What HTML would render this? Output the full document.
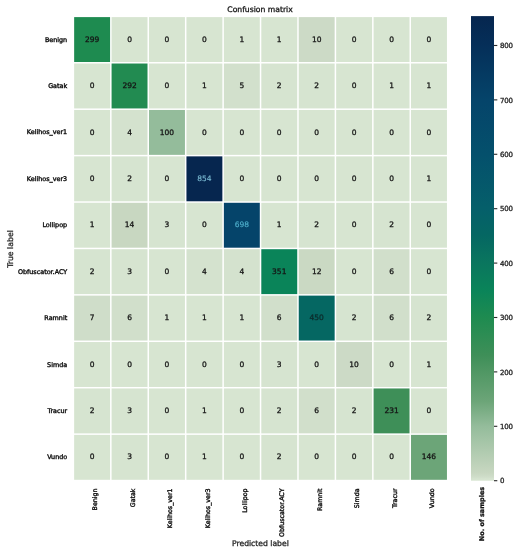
<!DOCTYPE html><html><head><meta charset="utf-8"><title>Confusion matrix</title><style>html,body{margin:0;padding:0;background:#fff}svg{display:block}text{font-family:"DejaVu Sans","Liberation Sans",sans-serif;fill:#151515;stroke:#151515;stroke-width:.3px}.a{font-size:7.5px;text-anchor:middle}.t{font-size:6.42px;stroke-width:.4px}.x{font-size:6.3px;stroke-width:.4px}.c{font-size:7px;letter-spacing:-.22px;fill:#2c2c2c;stroke:#2c2c2c;stroke-width:.35px}</style></head><body>
<svg width="518" height="550" viewBox="0 0 518 550">
<rect width="518" height="550" fill="#fff"/>
<defs><linearGradient id="g" x1="0" y1="1" x2="0" y2="0">
<stop offset="0.0000" stop-color="#d7e5d1"/>
<stop offset="0.0035" stop-color="#d6e4d0"/>
<stop offset="0.0082" stop-color="#cfddc9"/>
<stop offset="0.0164" stop-color="#c8d7c1"/>
<stop offset="0.1171" stop-color="#94bc9b"/>
<stop offset="0.1710" stop-color="#6ca578"/>
<stop offset="0.2342" stop-color="#509764"/>
<stop offset="0.2705" stop-color="#3e8f58"/>
<stop offset="0.3513" stop-color="#1e8b50"/>
<stop offset="0.4098" stop-color="#0a8459"/>
<stop offset="0.4684" stop-color="#0a765e"/>
<stop offset="0.5269" stop-color="#056762"/>
<stop offset="0.5855" stop-color="#055f6a"/>
<stop offset="0.7026" stop-color="#04506c"/>
<stop offset="0.8197" stop-color="#05446a"/>
<stop offset="0.9368" stop-color="#052f59"/>
<stop offset="1.0000" stop-color="#06264f"/>
</linearGradient></defs>
<rect x="74.15" y="17.10" width="35.93" height="44.92" fill="#1e8b50"/>
<rect x="111.58" y="17.10" width="35.93" height="44.92" fill="#d7e5d1"/>
<rect x="149.01" y="17.10" width="35.93" height="44.92" fill="#d7e5d1"/>
<rect x="186.44" y="17.10" width="35.93" height="44.92" fill="#d7e5d1"/>
<rect x="223.87" y="17.10" width="35.93" height="44.92" fill="#d7e5d1"/>
<rect x="261.30" y="17.10" width="35.93" height="44.92" fill="#d7e5d1"/>
<rect x="298.73" y="17.10" width="35.93" height="44.92" fill="#ccdac6"/>
<rect x="336.16" y="17.10" width="35.93" height="44.92" fill="#d7e5d1"/>
<rect x="373.59" y="17.10" width="35.93" height="44.92" fill="#d7e5d1"/>
<rect x="411.02" y="17.10" width="35.93" height="44.92" fill="#d7e5d1"/>
<rect x="74.15" y="63.52" width="35.93" height="44.92" fill="#d7e5d1"/>
<rect x="111.58" y="63.52" width="35.93" height="44.92" fill="#228b51"/>
<rect x="149.01" y="63.52" width="35.93" height="44.92" fill="#d7e5d1"/>
<rect x="186.44" y="63.52" width="35.93" height="44.92" fill="#d7e5d1"/>
<rect x="223.87" y="63.52" width="35.93" height="44.92" fill="#d2e0cc"/>
<rect x="261.30" y="63.52" width="35.93" height="44.92" fill="#d6e4d0"/>
<rect x="298.73" y="63.52" width="35.93" height="44.92" fill="#d6e4d0"/>
<rect x="336.16" y="63.52" width="35.93" height="44.92" fill="#d7e5d1"/>
<rect x="373.59" y="63.52" width="35.93" height="44.92" fill="#d7e5d1"/>
<rect x="411.02" y="63.52" width="35.93" height="44.92" fill="#d7e5d1"/>
<rect x="74.15" y="109.94" width="35.93" height="44.92" fill="#d7e5d1"/>
<rect x="111.58" y="109.94" width="35.93" height="44.92" fill="#d4e2ce"/>
<rect x="149.01" y="109.94" width="35.93" height="44.92" fill="#94bc9b"/>
<rect x="186.44" y="109.94" width="35.93" height="44.92" fill="#d7e5d1"/>
<rect x="223.87" y="109.94" width="35.93" height="44.92" fill="#d7e5d1"/>
<rect x="261.30" y="109.94" width="35.93" height="44.92" fill="#d7e5d1"/>
<rect x="298.73" y="109.94" width="35.93" height="44.92" fill="#d7e5d1"/>
<rect x="336.16" y="109.94" width="35.93" height="44.92" fill="#d7e5d1"/>
<rect x="373.59" y="109.94" width="35.93" height="44.92" fill="#d7e5d1"/>
<rect x="411.02" y="109.94" width="35.93" height="44.92" fill="#d7e5d1"/>
<rect x="74.15" y="156.36" width="35.93" height="44.92" fill="#d7e5d1"/>
<rect x="111.58" y="156.36" width="35.93" height="44.92" fill="#d6e4d0"/>
<rect x="149.01" y="156.36" width="35.93" height="44.92" fill="#d7e5d1"/>
<rect x="186.44" y="156.36" width="35.93" height="44.92" fill="#06264f"/>
<rect x="223.87" y="156.36" width="35.93" height="44.92" fill="#d7e5d1"/>
<rect x="261.30" y="156.36" width="35.93" height="44.92" fill="#d7e5d1"/>
<rect x="298.73" y="156.36" width="35.93" height="44.92" fill="#d7e5d1"/>
<rect x="336.16" y="156.36" width="35.93" height="44.92" fill="#d7e5d1"/>
<rect x="373.59" y="156.36" width="35.93" height="44.92" fill="#d7e5d1"/>
<rect x="411.02" y="156.36" width="35.93" height="44.92" fill="#d7e5d1"/>
<rect x="74.15" y="202.78" width="35.93" height="44.92" fill="#d7e5d1"/>
<rect x="111.58" y="202.78" width="35.93" height="44.92" fill="#c8d7c1"/>
<rect x="149.01" y="202.78" width="35.93" height="44.92" fill="#d6e4d0"/>
<rect x="186.44" y="202.78" width="35.93" height="44.92" fill="#d7e5d1"/>
<rect x="223.87" y="202.78" width="35.93" height="44.92" fill="#05446a"/>
<rect x="261.30" y="202.78" width="35.93" height="44.92" fill="#d7e5d1"/>
<rect x="298.73" y="202.78" width="35.93" height="44.92" fill="#d6e4d0"/>
<rect x="336.16" y="202.78" width="35.93" height="44.92" fill="#d7e5d1"/>
<rect x="373.59" y="202.78" width="35.93" height="44.92" fill="#d6e4d0"/>
<rect x="411.02" y="202.78" width="35.93" height="44.92" fill="#d7e5d1"/>
<rect x="74.15" y="249.20" width="35.93" height="44.92" fill="#d6e4d0"/>
<rect x="111.58" y="249.20" width="35.93" height="44.92" fill="#d6e4d0"/>
<rect x="149.01" y="249.20" width="35.93" height="44.92" fill="#d7e5d1"/>
<rect x="186.44" y="249.20" width="35.93" height="44.92" fill="#d4e2ce"/>
<rect x="223.87" y="249.20" width="35.93" height="44.92" fill="#d4e2ce"/>
<rect x="261.30" y="249.20" width="35.93" height="44.92" fill="#0a8459"/>
<rect x="298.73" y="249.20" width="35.93" height="44.92" fill="#cad9c3"/>
<rect x="336.16" y="249.20" width="35.93" height="44.92" fill="#d7e5d1"/>
<rect x="373.59" y="249.20" width="35.93" height="44.92" fill="#d1dfcb"/>
<rect x="411.02" y="249.20" width="35.93" height="44.92" fill="#d7e5d1"/>
<rect x="74.15" y="295.62" width="35.93" height="44.92" fill="#cfddc9"/>
<rect x="111.58" y="295.62" width="35.93" height="44.92" fill="#d1dfcb"/>
<rect x="149.01" y="295.62" width="35.93" height="44.92" fill="#d7e5d1"/>
<rect x="186.44" y="295.62" width="35.93" height="44.92" fill="#d7e5d1"/>
<rect x="223.87" y="295.62" width="35.93" height="44.92" fill="#d7e5d1"/>
<rect x="261.30" y="295.62" width="35.93" height="44.92" fill="#d1dfcb"/>
<rect x="298.73" y="295.62" width="35.93" height="44.92" fill="#056762"/>
<rect x="336.16" y="295.62" width="35.93" height="44.92" fill="#d6e4d0"/>
<rect x="373.59" y="295.62" width="35.93" height="44.92" fill="#d1dfcb"/>
<rect x="411.02" y="295.62" width="35.93" height="44.92" fill="#d6e4d0"/>
<rect x="74.15" y="342.04" width="35.93" height="44.92" fill="#d7e5d1"/>
<rect x="111.58" y="342.04" width="35.93" height="44.92" fill="#d7e5d1"/>
<rect x="149.01" y="342.04" width="35.93" height="44.92" fill="#d7e5d1"/>
<rect x="186.44" y="342.04" width="35.93" height="44.92" fill="#d7e5d1"/>
<rect x="223.87" y="342.04" width="35.93" height="44.92" fill="#d7e5d1"/>
<rect x="261.30" y="342.04" width="35.93" height="44.92" fill="#d6e4d0"/>
<rect x="298.73" y="342.04" width="35.93" height="44.92" fill="#d7e5d1"/>
<rect x="336.16" y="342.04" width="35.93" height="44.92" fill="#ccdac6"/>
<rect x="373.59" y="342.04" width="35.93" height="44.92" fill="#d7e5d1"/>
<rect x="411.02" y="342.04" width="35.93" height="44.92" fill="#d7e5d1"/>
<rect x="74.15" y="388.46" width="35.93" height="44.92" fill="#d6e4d0"/>
<rect x="111.58" y="388.46" width="35.93" height="44.92" fill="#d6e4d0"/>
<rect x="149.01" y="388.46" width="35.93" height="44.92" fill="#d7e5d1"/>
<rect x="186.44" y="388.46" width="35.93" height="44.92" fill="#d7e5d1"/>
<rect x="223.87" y="388.46" width="35.93" height="44.92" fill="#d7e5d1"/>
<rect x="261.30" y="388.46" width="35.93" height="44.92" fill="#d6e4d0"/>
<rect x="298.73" y="388.46" width="35.93" height="44.92" fill="#d1dfcb"/>
<rect x="336.16" y="388.46" width="35.93" height="44.92" fill="#d6e4d0"/>
<rect x="373.59" y="388.46" width="35.93" height="44.92" fill="#3e8f58"/>
<rect x="411.02" y="388.46" width="35.93" height="44.92" fill="#d7e5d1"/>
<rect x="74.15" y="434.88" width="35.93" height="44.92" fill="#d7e5d1"/>
<rect x="111.58" y="434.88" width="35.93" height="44.92" fill="#d6e4d0"/>
<rect x="149.01" y="434.88" width="35.93" height="44.92" fill="#d7e5d1"/>
<rect x="186.44" y="434.88" width="35.93" height="44.92" fill="#d7e5d1"/>
<rect x="223.87" y="434.88" width="35.93" height="44.92" fill="#d7e5d1"/>
<rect x="261.30" y="434.88" width="35.93" height="44.92" fill="#d6e4d0"/>
<rect x="298.73" y="434.88" width="35.93" height="44.92" fill="#d7e5d1"/>
<rect x="336.16" y="434.88" width="35.93" height="44.92" fill="#d7e5d1"/>
<rect x="373.59" y="434.88" width="35.93" height="44.92" fill="#d7e5d1"/>
<rect x="411.02" y="434.88" width="35.93" height="44.92" fill="#6ca578"/>
<text class="a" x="92.12" y="41.66">299</text>
<text class="a" x="129.54" y="41.66">0</text>
<text class="a" x="166.97" y="41.66">0</text>
<text class="a" x="204.40" y="41.66">0</text>
<text class="a" x="241.83" y="41.66">1</text>
<text class="a" x="279.26" y="41.66">1</text>
<text class="a" x="316.69" y="41.66">10</text>
<text class="a" x="354.12" y="41.66">0</text>
<text class="a" x="391.55" y="41.66">0</text>
<text class="a" x="428.98" y="41.66">0</text>
<text class="a" x="92.12" y="88.08">0</text>
<text class="a" x="129.54" y="88.08">292</text>
<text class="a" x="166.97" y="88.08">0</text>
<text class="a" x="204.40" y="88.08">1</text>
<text class="a" x="241.83" y="88.08">5</text>
<text class="a" x="279.26" y="88.08">2</text>
<text class="a" x="316.69" y="88.08">2</text>
<text class="a" x="354.12" y="88.08">0</text>
<text class="a" x="391.55" y="88.08">1</text>
<text class="a" x="428.98" y="88.08">1</text>
<text class="a" x="92.12" y="134.50">0</text>
<text class="a" x="129.54" y="134.50">4</text>
<text class="a" x="166.97" y="134.50">100</text>
<text class="a" x="204.40" y="134.50">0</text>
<text class="a" x="241.83" y="134.50">0</text>
<text class="a" x="279.26" y="134.50">0</text>
<text class="a" x="316.69" y="134.50">0</text>
<text class="a" x="354.12" y="134.50">0</text>
<text class="a" x="391.55" y="134.50">0</text>
<text class="a" x="428.98" y="134.50">0</text>
<text class="a" x="92.12" y="180.92">0</text>
<text class="a" x="129.54" y="180.92">2</text>
<text class="a" x="166.97" y="180.92">0</text>
<text class="a" x="204.40" y="180.92" style="fill:#78b8d0;stroke:#78b8d0;stroke-width:.15px">854</text>
<text class="a" x="241.83" y="180.92">0</text>
<text class="a" x="279.26" y="180.92">0</text>
<text class="a" x="316.69" y="180.92">0</text>
<text class="a" x="354.12" y="180.92">0</text>
<text class="a" x="391.55" y="180.92">0</text>
<text class="a" x="428.98" y="180.92">1</text>
<text class="a" x="92.12" y="227.34">1</text>
<text class="a" x="129.54" y="227.34">14</text>
<text class="a" x="166.97" y="227.34">3</text>
<text class="a" x="204.40" y="227.34">0</text>
<text class="a" x="241.83" y="227.34" style="fill:#4fb0cc;stroke:#4fb0cc;stroke-width:.15px">698</text>
<text class="a" x="279.26" y="227.34">1</text>
<text class="a" x="316.69" y="227.34">2</text>
<text class="a" x="354.12" y="227.34">0</text>
<text class="a" x="391.55" y="227.34">2</text>
<text class="a" x="428.98" y="227.34">0</text>
<text class="a" x="92.12" y="273.76">2</text>
<text class="a" x="129.54" y="273.76">3</text>
<text class="a" x="166.97" y="273.76">0</text>
<text class="a" x="204.40" y="273.76">4</text>
<text class="a" x="241.83" y="273.76">4</text>
<text class="a" x="279.26" y="273.76">351</text>
<text class="a" x="316.69" y="273.76">12</text>
<text class="a" x="354.12" y="273.76">0</text>
<text class="a" x="391.55" y="273.76">6</text>
<text class="a" x="428.98" y="273.76">0</text>
<text class="a" x="92.12" y="320.18">7</text>
<text class="a" x="129.54" y="320.18">6</text>
<text class="a" x="166.97" y="320.18">1</text>
<text class="a" x="204.40" y="320.18">1</text>
<text class="a" x="241.83" y="320.18">1</text>
<text class="a" x="279.26" y="320.18">6</text>
<text class="a" x="316.69" y="320.18" style="fill:#0c2c2c;stroke:#0c2c2c">450</text>
<text class="a" x="354.12" y="320.18">2</text>
<text class="a" x="391.55" y="320.18">6</text>
<text class="a" x="428.98" y="320.18">2</text>
<text class="a" x="92.12" y="366.60">0</text>
<text class="a" x="129.54" y="366.60">0</text>
<text class="a" x="166.97" y="366.60">0</text>
<text class="a" x="204.40" y="366.60">0</text>
<text class="a" x="241.83" y="366.60">0</text>
<text class="a" x="279.26" y="366.60">3</text>
<text class="a" x="316.69" y="366.60">0</text>
<text class="a" x="354.12" y="366.60">10</text>
<text class="a" x="391.55" y="366.60">0</text>
<text class="a" x="428.98" y="366.60">1</text>
<text class="a" x="92.12" y="413.02">2</text>
<text class="a" x="129.54" y="413.02">3</text>
<text class="a" x="166.97" y="413.02">0</text>
<text class="a" x="204.40" y="413.02">1</text>
<text class="a" x="241.83" y="413.02">0</text>
<text class="a" x="279.26" y="413.02">2</text>
<text class="a" x="316.69" y="413.02">6</text>
<text class="a" x="354.12" y="413.02">2</text>
<text class="a" x="391.55" y="413.02">231</text>
<text class="a" x="428.98" y="413.02">0</text>
<text class="a" x="92.12" y="459.44">0</text>
<text class="a" x="129.54" y="459.44">3</text>
<text class="a" x="166.97" y="459.44">0</text>
<text class="a" x="204.40" y="459.44">1</text>
<text class="a" x="241.83" y="459.44">0</text>
<text class="a" x="279.26" y="459.44">2</text>
<text class="a" x="316.69" y="459.44">0</text>
<text class="a" x="354.12" y="459.44">0</text>
<text class="a" x="391.55" y="459.44">0</text>
<text class="a" x="428.98" y="459.44">146</text>
<text x="260" y="12.3" style="font-size:7.65px;text-anchor:middle">Confusion matrix</text>
<text class="t" x="67.2" y="41.56" style="text-anchor:end">Benign</text>
<text class="t" x="67.2" y="87.98" style="text-anchor:end">Gatak</text>
<text class="t" x="67.2" y="134.40" style="text-anchor:end">Kelihos_ver1</text>
<text class="t" x="67.2" y="180.82" style="text-anchor:end">Kelihos_ver3</text>
<text class="t" x="67.2" y="227.24" style="text-anchor:end">Lollipop</text>
<text class="t" x="67.2" y="273.66" style="text-anchor:end">Obfuscator.ACY</text>
<text class="t" x="67.2" y="320.08" style="text-anchor:end">Ramnit</text>
<text class="t" x="67.2" y="366.50" style="text-anchor:end">Simda</text>
<text class="t" x="67.2" y="412.92" style="text-anchor:end">Tracur</text>
<text class="t" x="67.2" y="459.34" style="text-anchor:end">Vundo</text>
<text class="x" transform="translate(97.22,488.5) rotate(-90)" style="text-anchor:end">Benign</text>
<text class="x" transform="translate(134.64,488.5) rotate(-90)" style="text-anchor:end">Gatak</text>
<text class="x" transform="translate(172.07,488.5) rotate(-90)" style="text-anchor:end">Kelihos_ver1</text>
<text class="x" transform="translate(209.50,488.5) rotate(-90)" style="text-anchor:end">Kelihos_ver3</text>
<text class="x" transform="translate(246.93,488.5) rotate(-90)" style="text-anchor:end">Lollipop</text>
<text class="x" transform="translate(284.37,488.5) rotate(-90)" style="text-anchor:end">Obfuscator.ACY</text>
<text class="x" transform="translate(321.79,488.5) rotate(-90)" style="text-anchor:end">Ramnit</text>
<text class="x" transform="translate(359.23,488.5) rotate(-90)" style="text-anchor:end">Simda</text>
<text class="x" transform="translate(396.65,488.5) rotate(-90)" style="text-anchor:end">Tracur</text>
<text class="x" transform="translate(434.08,488.5) rotate(-90)" style="text-anchor:end">Vundo</text>
<text transform="translate(13.2,249) rotate(-90)" style="font-size:7.75px;text-anchor:middle;fill:#2a2a2a;stroke:#2a2a2a">True label</text>
<text x="260.4" y="545.5" style="font-size:7.65px;text-anchor:middle;fill:#2a2a2a;stroke:#2a2a2a;stroke-width:.32px">Predicted label</text>
<rect x="471" y="16.1" width="23" height="464.60" fill="url(#g)"/>
<rect x="494" y="480.15" width="3.3" height="1.1" fill="#2a2a2a"/>
<text class="c" x="500.1" y="483.45">0</text>
<rect x="494" y="425.75" width="3.3" height="1.1" fill="#2a2a2a"/>
<text class="c" x="500.1" y="429.05">100</text>
<rect x="494" y="371.34" width="3.3" height="1.1" fill="#2a2a2a"/>
<text class="c" x="500.1" y="374.64">200</text>
<rect x="494" y="316.94" width="3.3" height="1.1" fill="#2a2a2a"/>
<text class="c" x="500.1" y="320.24">300</text>
<rect x="494" y="262.54" width="3.3" height="1.1" fill="#2a2a2a"/>
<text class="c" x="500.1" y="265.84">400</text>
<rect x="494" y="208.14" width="3.3" height="1.1" fill="#2a2a2a"/>
<text class="c" x="500.1" y="211.44">500</text>
<rect x="494" y="153.73" width="3.3" height="1.1" fill="#2a2a2a"/>
<text class="c" x="500.1" y="157.03">600</text>
<rect x="494" y="99.33" width="3.3" height="1.1" fill="#2a2a2a"/>
<text class="c" x="500.1" y="102.63">700</text>
<rect x="494" y="44.93" width="3.3" height="1.1" fill="#2a2a2a"/>
<text class="c" x="500.1" y="48.23">800</text>
<text transform="translate(483.9,541.2) rotate(-90)" style="font-size:6.5px;font-weight:bold">No. of samples</text>
</svg></body></html>
